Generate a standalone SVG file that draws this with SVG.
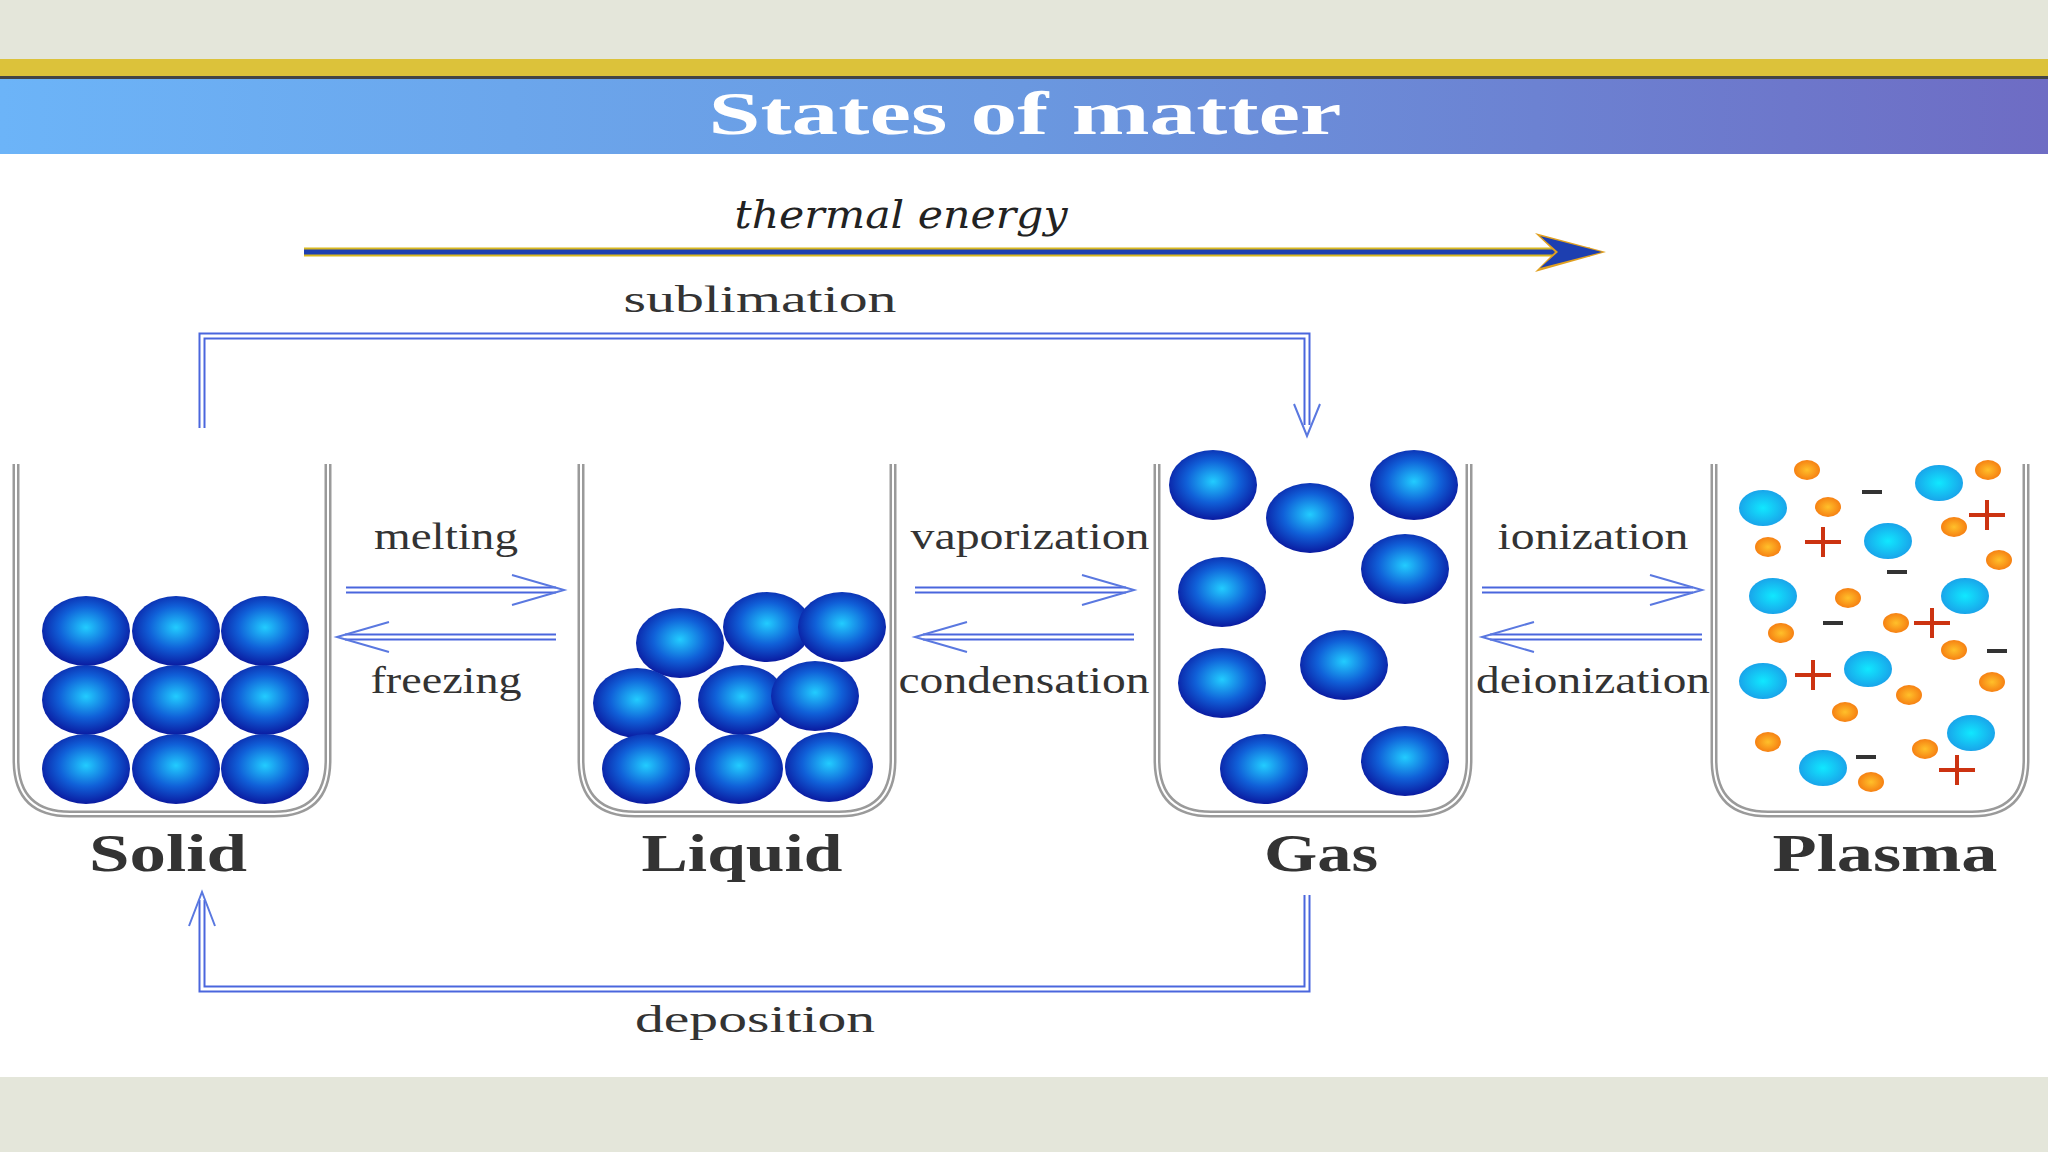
<svg xmlns="http://www.w3.org/2000/svg" width="2048" height="1152" viewBox="0 0 2048 1152">
<defs>
<linearGradient id="hdr" x1="0" x2="1" y1="0" y2="0"><stop offset="0" stop-color="#6cb4f8"/><stop offset="0.5" stop-color="#6a98e0"/><stop offset="1" stop-color="#6e6cc4"/></linearGradient>
<radialGradient id="ball" cx="0.5" cy="0.45" r="0.55"><stop offset="0" stop-color="#22ccff"/><stop offset="0.55" stop-color="#1060d8"/><stop offset="1" stop-color="#0a1aa0"/></radialGradient>
<radialGradient id="cyan" cx="0.5" cy="0.5" r="0.55"><stop offset="0" stop-color="#10e8ff"/><stop offset="1" stop-color="#1a9ee8"/></radialGradient>
<radialGradient id="org" cx="0.5" cy="0.5" r="0.55"><stop offset="0" stop-color="#ffc02a"/><stop offset="1" stop-color="#f57a10"/></radialGradient>
</defs>
<style>
.lbl{font-family:"Liberation Serif","DejaVu Serif",serif;font-size:38px;fill:#333;text-anchor:middle}
.st{font-family:"Liberation Serif","DejaVu Serif",serif;font-size:52px;font-weight:bold;fill:#333;text-anchor:middle}
.bk{fill:none;stroke:#9a9a9a;stroke-width:7}
.bki{fill:none;stroke:#fff;stroke-width:2}
.dl{fill:none;stroke:#4a66dd;stroke-width:7}
.dli{fill:none;stroke:#fff;stroke-width:3}
.ah{fill:none;stroke:#5a78e0;stroke-width:2}
.pl{stroke:#cc3311;stroke-width:4}
.mn{stroke:#333;stroke-width:4}
</style>
<rect width="2048" height="1152" fill="#ffffff"/>
<rect width="2048" height="59" fill="#e4e6da"/>
<rect y="1077" width="2048" height="75" fill="#e4e6da"/>
<rect y="59" width="2048" height="18" fill="#dcc23a"/>
<rect y="76" width="2048" height="3" fill="#444"/>
<rect y="79" width="2048" height="75" fill="url(#hdr)"/>
<text x="1025" y="134" textLength="633" lengthAdjust="spacingAndGlyphs" style="font-family:'Liberation Serif',serif;font-size:62px;font-weight:bold;fill:#fff;text-anchor:middle">States of matter</text>

<g id="thermal">
<text x="901" y="228" textLength="333" lengthAdjust="spacingAndGlyphs" style="font-family:'DejaVu Serif',serif;font-style:italic;font-size:40px;fill:#222;text-anchor:middle">thermal energy</text>
<line x1="304" y1="252" x2="1590" y2="252" stroke="#d8b820" stroke-width="9"/>
<line x1="304" y1="252" x2="1590" y2="252" stroke="#1d3fb0" stroke-width="5"/>
<path d="M1535,233 L1606,252 L1535,272 L1555,252 Z" fill="#e0a020"/>
<path d="M1540,236 L1602,252 L1540,268 L1558,252 Z" fill="#1d3fb0"/>
</g>

<g id="connectors">
<path class="dl" d="M202,428 V336 H1307 V425"/>
<path class="dli" d="M202,428 V336 H1307 V425"/>
<path class="ah" d="M1294,404 L1307,436 L1320,404"/>
<path class="dl" d="M1307,895 V989 H202 V900"/>
<path class="dli" d="M1307,895 V989 H202 V900"/>
<path class="ah" d="M189,926 L202,892 L215,926"/>
<g id="pairs">
<path class="dl" d="M346,590 H556 M915,590 H1126 M1482,590 H1693"/>
<path class="dli" d="M346,590 H556 M915,590 H1126 M1482,590 H1693"/>
<path class="ah" d="M512,575 L564,590 L512,605 M1082,575 L1134,590 L1082,605 M1650,575 L1702,590 L1650,605"/>
<path class="dl" d="M345,637 H556 M923,637 H1134 M1490,637 H1702"/>
<path class="dli" d="M345,637 H556 M923,637 H1134 M1490,637 H1702"/>
<path class="ah" d="M389,622 L337,637 L389,652 M967,622 L915,637 L967,652 M1534,622 L1482,637 L1534,652"/>
</g>
</g>
<text class="lbl" x="760" y="312" textLength="273" lengthAdjust="spacingAndGlyphs">sublimation</text>
<text class="lbl" x="755" y="1032" textLength="240" lengthAdjust="spacingAndGlyphs">deposition</text>
<text class="lbl" x="446" y="549" textLength="144" lengthAdjust="spacingAndGlyphs">melting</text>
<text class="lbl" x="446" y="693" textLength="151" lengthAdjust="spacingAndGlyphs">freezing</text>
<text class="lbl" x="1030" y="549" textLength="239" lengthAdjust="spacingAndGlyphs">vaporization</text>
<text class="lbl" x="1024" y="693" textLength="251" lengthAdjust="spacingAndGlyphs">condensation</text>
<text class="lbl" x="1593" y="549" textLength="191" lengthAdjust="spacingAndGlyphs">ionization</text>
<text class="lbl" x="1593" y="693" textLength="234" lengthAdjust="spacingAndGlyphs">deionization</text>

<g id="solid">
<path class="bk" d="M16,464 V760 Q16,814 70,814 H274 Q328,814 328,760 V464"/>
<path class="bki" d="M16,464 V760 Q16,814 70,814 H274 Q328,814 328,760 V464"/>
<g fill="url(#ball)">
<ellipse cx="86" cy="631" rx="44" ry="35"/><ellipse cx="176" cy="631" rx="44" ry="35"/><ellipse cx="265" cy="631" rx="44" ry="35"/>
<ellipse cx="86" cy="700" rx="44" ry="35"/><ellipse cx="176" cy="700" rx="44" ry="35"/><ellipse cx="265" cy="700" rx="44" ry="35"/>
<ellipse cx="86" cy="769" rx="44" ry="35"/><ellipse cx="176" cy="769" rx="44" ry="35"/><ellipse cx="265" cy="769" rx="44" ry="35"/>
</g>
<text class="st" x="168" y="871" textLength="158" lengthAdjust="spacingAndGlyphs">Solid</text>
</g>

<g id="liquid">
<path class="bk" d="M581,464 V760 Q581,814 635,814 H839 Q893,814 893,760 V464"/>
<path class="bki" d="M581,464 V760 Q581,814 635,814 H839 Q893,814 893,760 V464"/>
<g fill="url(#ball)">
<ellipse cx="680" cy="643" rx="44" ry="35"/><ellipse cx="767" cy="627" rx="44" ry="35"/><ellipse cx="842" cy="627" rx="44" ry="35"/>
<ellipse cx="637" cy="703" rx="44" ry="35"/><ellipse cx="742" cy="700" rx="44" ry="35"/><ellipse cx="815" cy="696" rx="44" ry="35"/>
<ellipse cx="646" cy="769" rx="44" ry="35"/><ellipse cx="739" cy="769" rx="44" ry="35"/><ellipse cx="829" cy="767" rx="44" ry="35"/>
</g>
<text class="st" x="742" y="871" textLength="201" lengthAdjust="spacingAndGlyphs">Liquid</text>
</g>

<g id="gas">
<path class="bk" d="M1157,464 V760 Q1157,814 1211,814 H1415 Q1469,814 1469,760 V464"/>
<path class="bki" d="M1157,464 V760 Q1157,814 1211,814 H1415 Q1469,814 1469,760 V464"/>
<g fill="url(#ball)">
<ellipse cx="1213" cy="485" rx="44" ry="35"/><ellipse cx="1310" cy="518" rx="44" ry="35"/><ellipse cx="1414" cy="485" rx="44" ry="35"/>
<ellipse cx="1222" cy="592" rx="44" ry="35"/><ellipse cx="1405" cy="569" rx="44" ry="35"/>
<ellipse cx="1222" cy="683" rx="44" ry="35"/><ellipse cx="1344" cy="665" rx="44" ry="35"/>
<ellipse cx="1264" cy="769" rx="44" ry="35"/><ellipse cx="1405" cy="761" rx="44" ry="35"/>
</g>
<text class="st" x="1321" y="871" textLength="114" lengthAdjust="spacingAndGlyphs">Gas</text>
</g>

<g id="plasma">
<path class="bk" d="M1714,464 V760 Q1714,814 1768,814 H1972 Q2026,814 2026,760 V464"/>
<path class="bki" d="M1714,464 V760 Q1714,814 1768,814 H1972 Q2026,814 2026,760 V464"/>
<g fill="url(#cyan)">
<ellipse cx="1763" cy="508" rx="24" ry="18"/><ellipse cx="1939" cy="483" rx="24" ry="18"/><ellipse cx="1888" cy="541" rx="24" ry="18"/>
<ellipse cx="1773" cy="596" rx="24" ry="18"/><ellipse cx="1965" cy="596" rx="24" ry="18"/><ellipse cx="1763" cy="681" rx="24" ry="18"/>
<ellipse cx="1868" cy="669" rx="24" ry="18"/><ellipse cx="1971" cy="733" rx="24" ry="18"/><ellipse cx="1823" cy="768" rx="24" ry="18"/>
</g>
<g fill="url(#org)">
<ellipse cx="1807" cy="470" rx="13" ry="10"/><ellipse cx="1828" cy="507" rx="13" ry="10"/><ellipse cx="1988" cy="470" rx="13" ry="10"/>
<ellipse cx="1954" cy="527" rx="13" ry="10"/><ellipse cx="1768" cy="547" rx="13" ry="10"/><ellipse cx="1999" cy="560" rx="13" ry="10"/>
<ellipse cx="1848" cy="598" rx="13" ry="10"/><ellipse cx="1781" cy="633" rx="13" ry="10"/><ellipse cx="1896" cy="623" rx="13" ry="10"/>
<ellipse cx="1954" cy="650" rx="13" ry="10"/><ellipse cx="1992" cy="682" rx="13" ry="10"/><ellipse cx="1909" cy="695" rx="13" ry="10"/>
<ellipse cx="1845" cy="712" rx="13" ry="10"/><ellipse cx="1768" cy="742" rx="13" ry="10"/><ellipse cx="1925" cy="749" rx="13" ry="10"/>
<ellipse cx="1871" cy="782" rx="13" ry="10"/>
</g>
<path class="pl" d="M1805,542 h36 M1823,527 v30 M1969,515 h36 M1987,500 v30 M1914,623 h36 M1932,608 v30 M1795,675 h36 M1813,660 v30 M1939,770 h36 M1957,755 v30"/>
<path class="mn" d="M1862,492 h20 M1887,572 h20 M1823,623 h20 M1987,651 h20 M1856,757 h20"/>
<text class="st" x="1885" y="871" textLength="225" lengthAdjust="spacingAndGlyphs">Plasma</text>
</g>
</svg>
